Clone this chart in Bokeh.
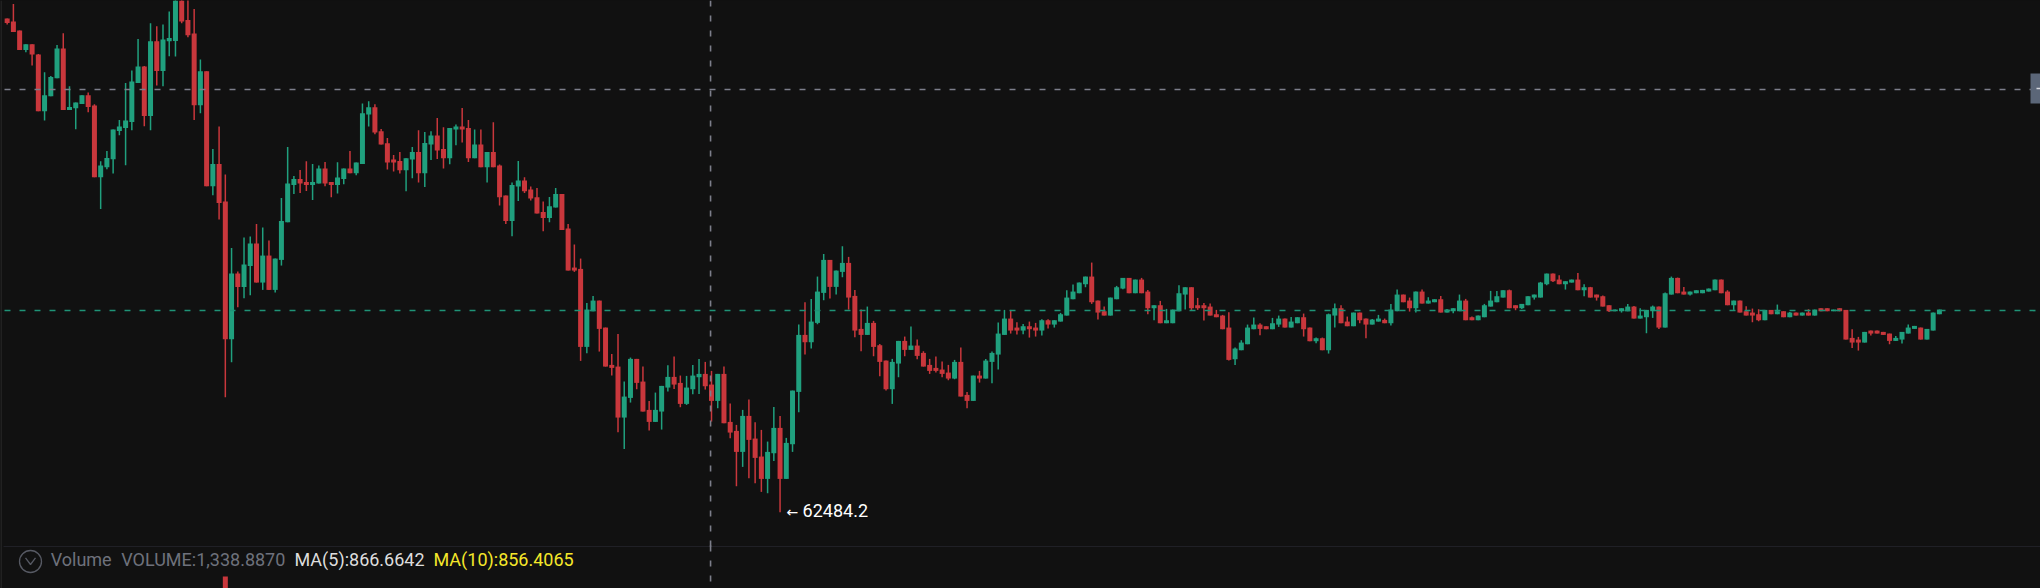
from bokeh.plotting import figure
from bokeh.models import Range1d
from bokeh.core.properties import value
from bokeh.embed import file_html
from bokeh.resources import INLINE

open_prices = [
 63965,63956,63929,63871,63888,63857,63687,63732,63786,63875,
 63691,63696,63709,63735,63704,63489,63519,63543,63628,63637,
 63655,63772,63821,63673,63897,63808,63897,63898,64040,63961,
 63920,63705,63807,63462,63529,63416,63003,63200,63160,63223,
 63290,63173,63254,63151,63241,63354,63466,63484,63475,63466,
 63470,63515,63475,63466,63484,63515,63501,63529,63677,63699,
 63627,63591,63542,63538,63510,63542,63565,63501,63587,63614,
 63574,63546,63632,63641,63637,63546,63587,63519,63565,63524,
 63434,63358,63461,63479,63452,63429,63385,63367,63398,63439,
 63335,63218,63214,62980,63087,63119,63038,62926,62921,62768,
 62827,62944,62876,62791,62755,62786,62858,62890,62872,62809,
 62853,62889,62899,62867,62818,62899,62755,62728,62665,62773,
 62705,62651,62584,62661,62737,62584,62688,62845,63016,62994,
 63052,63142,63241,63160,63205,63232,63133,63034,63016,63052,
 62985,62939,62853,62930,62998,62971,62984,62962,62926,62917,
 62912,62903,62885,62935,62836,62818,62894,62885,62935,62957,
 63016,63065,63038,63029,63042,63038,63029,63060,63047,63056,
 63074,63123,63141,63168,63191,63119,63087,63074,63123,63155,
 63187,63141,63182,63146,63096,63105,63051,63051,63087,63137,
 63159,63105,63105,63101,63078,63074,63038,62943,62970,62988,
 63033,63047,63042,63033,63047,63065,63038,63051,63069,63038,
 62997,63006,62970,63074,63096,63056,63042,63083,63065,63047,
 63056,63061,63051,63087,63137,63119,63096,63146,63110,63114,
 63123,63083,63087,63087,63119,63069,63060,63069,63101,63114,
 63128,63150,63105,63096,63105,63128,63128,63168,63200,63182,
 63168,63173,63182,63150,63159,63137,63132,63105,63087,63087,
 63087,63101,63065,63069,63087,63101,63038,63137,63187,63146,
 63137,63141,63141,63146,63150,63182,63146,63105,63119,63087,
 63083,63078,63060,63091,63078,63087,63069,63083,63074,63083,
 63074,63096,63096,63087,63096,63091,63007,63002,62993,63029,
 63029,63025,63020,62998,63002,63020,63034,63038,63002,63029,
 63078]
high_prices = [
 63965,64009,63929,63888,63888,63859,63804,63793,63886,63921,
 63762,63713,63735,63743,63708,63537,63568,63632,63661,63772,
 63809,63904,63823,63951,63942,63947,63986,64040,64040,64040,
 63994,63842,63807,63574,63641,63497,63277,63206,63308,63311,
 63349,63338,63299,63245,63427,63580,63493,63511,63537,63529,
 63524,63535,63475,63534,63515,63568,63533,63710,63717,63708,
 63634,63607,63556,63565,63546,63580,63630,63625,63627,63667,
 63639,63637,63647,63697,63661,63632,63632,63565,63654,63527,
 63434,63473,63538,63489,63461,63457,63416,63430,63457,63439,
 63349,63287,63245,63112,63133,63119,63038,62959,63019,62876,
 62948,62944,62921,62818,62843,62863,62925,62951,62894,62893,
 62926,62944,62935,62908,62899,62921,62810,62746,62791,62822,
 62754,62731,62696,62800,62773,62707,62849,63047,63114,63124,
 63191,63259,63241,63209,63282,63250,63151,63092,63101,63058,
 62989,62939,62944,62998,63011,63041,63002,62967,62944,62951,
 62936,62926,62941,62978,62845,62894,62908,62944,62966,63053,
 63091,63091,63054,63049,63056,63052,63063,63063,63060,63082,
 63150,63167,63173,63191,63233,63119,63101,63128,63163,63187,
 63187,63182,63187,63151,63105,63118,63094,63092,63165,63159,
 63159,63127,63112,63110,63091,63076,63084,62978,63000,63047,
 63068,63051,63042,63067,63074,63065,63070,63069,63080,63038,
 63008,63008,63080,63110,63105,63071,63083,63083,63065,63064,
 63076,63065,63109,63152,63137,63128,63146,63152,63129,63123,
 63133,63094,63096,63137,63124,63071,63074,63109,63148,63148,
 63150,63152,63105,63109,63132,63137,63175,63200,63200,63195,
 63177,63182,63202,63168,63160,63137,63134,63105,63092,63096,
 63109,63103,63096,63091,63104,63101,63143,63191,63188,63160,
 63146,63150,63151,63155,63182,63182,63150,63119,63119,63102,
 63095,63093,63091,63091,63107,63087,63085,63083,63083,63093,
 63092,63096,63096,63092,63096,63091,63033,63010,63025,63029,
 63029,63025,63020,63013,63025,63047,63043,63038,63034,63083,
 63092]
low_prices = [
 63947,63925,63871,63864,63824,63687,63659,63732,63786,63691,
 63691,63633,63709,63684,63489,63394,63513,63500,63615,63525,
 63630,63772,63642,63630,63764,63762,63852,63851,63951,63909,
 63661,63681,63462,63435,63362,62829,62934,63099,63126,63135,
 63173,63151,63151,63143,63224,63354,63439,63442,63448,63421,
 63470,63462,63429,63440,63468,63501,63495,63529,63641,63618,
 63587,63512,63506,63500,63447,63486,63473,63460,63541,63544,
 63515,63528,63585,63593,63535,63546,63519,63473,63519,63404,
 63349,63312,63418,63442,63419,63380,63327,63354,63398,63331,
 63209,63205,62938,62961,63087,62966,62921,62894,62724,62674,
 62813,62853,62786,62729,62755,62732,62846,62854,62799,62806,
 62838,62839,62852,62756,62796,62751,62706,62562,62620,62586,
 62571,62545,62541,62638,62484,62584,62665,62784,62957,62975,
 63048,63120,63125,63137,63189,63092,63009,62967,63016,62952,
 62892,62849,62809,62889,62952,62971,62943,62921,62899,62903,
 62889,62880,62883,62831,62796,62818,62873,62885,62871,62912,
 63016,63020,63017,63018,63008,63011,63014,63035,63038,63056,
 63074,63123,63141,63159,63109,63062,63074,63074,63123,63153,
 63141,63141,63141,63078,63060,63051,63051,63051,63087,63092,
 63091,63091,63059,63074,63069,63033,62939,62926,62970,62988,
 63033,63015,63033,63033,63040,63038,63038,63051,63011,62997,
 62991,62970,62960,63038,63051,63042,63042,63051,63006,63047,
 63056,63051,63044,63087,63114,63086,63083,63110,63110,63114,
 63083,63083,63081,63087,63060,63060,63060,63069,63101,63114,
 63128,63096,63090,63094,63105,63122,63128,63165,63175,63168,
 63152,63173,63150,63132,63128,63119,63101,63085,63087,63083,
 63087,63065,63065,63021,63067,63034,63038,63137,63141,63137,
 63134,63141,63141,63146,63150,63141,63105,63091,63083,63074,
 63054,63057,63060,63078,63078,63069,63069,63074,63074,63074,
 63074,63087,63087,63087,63087,63002,62977,62969,62993,63014,
 63020,63016,62988,62998,62990,63020,63034,63002,63002,63029,
 63078]
close_prices = [
 63952,63925,63871,63888,63857,63687,63735,63790,63875,63691,
 63700,63713,63735,63700,63489,63524,63547,63632,63641,63659,
 63776,63821,63673,63897,63808,63902,63907,64040,63956,63915,
 63705,63807,63462,63529,63412,63003,63200,63160,63227,63290,
 63173,63254,63151,63245,63358,63470,63484,63470,63466,63475,
 63515,63470,63466,63488,63515,63501,63533,63681,63699,63623,
 63587,63533,63533,63510,63546,63565,63501,63592,63614,63569,
 63546,63637,63641,63632,63546,63587,63519,63565,63519,63429,
 63358,63466,63479,63447,63425,63380,63367,63402,63439,63331,
 63209,63209,62980,63092,63119,63034,62921,62917,62768,62831,
 62944,62872,62786,62755,62791,62863,62890,62867,62809,62858,
 62894,62899,62862,62818,62899,62751,62723,62665,62773,62701,
 62647,62584,62665,62737,62584,62692,62849,63016,62994,63056,
 63146,63241,63160,63209,63232,63128,63029,63016,63052,62980,
 62935,62853,62935,62998,62971,62984,62953,62921,62908,62908,
 62899,62885,62935,62831,62818,62894,62885,62939,62962,63020,
 63065,63029,63029,63042,63033,63029,63060,63047,63060,63078,
 63128,63146,63173,63191,63114,63083,63074,63128,63159,63187,
 63141,63182,63141,63096,63105,63051,63060,63092,63141,63159,
 63096,63096,63096,63074,63069,63033,62941,62975,62993,63038,
 63047,63034,63033,63051,63065,63038,63056,63069,63033,62997,
 63006,62970,63078,63096,63051,63042,63083,63060,63047,63062,
 63065,63051,63092,63137,63114,63096,63146,63110,63119,63123,
 63083,63092,63096,63119,63060,63060,63074,63105,63119,63132,
 63150,63096,63096,63109,63132,63137,63173,63200,63177,63168,
 63177,63182,63150,63159,63128,63128,63101,63087,63092,63096,
 63101,63065,63074,63091,63101,63038,63141,63187,63141,63137,
 63146,63150,63151,63155,63182,63141,63105,63119,63083,63074,
 63074,63060,63091,63078,63087,63069,63083,63074,63083,63074,
 63092,63087,63087,63092,63087,63002,62993,62993,63025,63020,
 63020,63016,62998,63007,63025,63038,63043,63002,63034,63083,
 63092]

current_price = 63089
marker_price = 63752
lowest_price = 62484.2
lowest_index = 124
crosshair_index = 112.85
volume_index = [35]
volume_values = [1500]
volume_label = "Volume"
volume_now = "VOLUME:1,338.8870"
ma5_label = "MA(5):866.6642"
ma10_label = "MA(10):856.4065"

W, H = 2040, 588
BG = "#111111"
UP = "#20A07E"
DOWN = "#C9373C"
GREY = "#7C7E8A"
FONT = value("Roboto")

# screen layout: price = TOP - 3 * pixel row; index = (pixel column - X0) / STEP
TOP = 64019.2
PX = 3.0
X0 = 6.67
STEP = 6.233
def sx(px): return (px - X0) / STEP
def sy(px): return TOP - PX * px

p = figure(width=W, height=H, output_backend="svg", toolbar_location=None,
           x_range=Range1d(sx(0), sx(W)), y_range=Range1d(sy(H), sy(0)),
           x_axis_location=None, y_axis_location=None,
           background_fill_color=BG, border_fill_color=BG,
           min_border=0, min_border_left=0, min_border_right=0,
           min_border_top=0, min_border_bottom=0, outline_line_color=None)
p.grid.visible = False
p.styles = {"position": "fixed", "left": "0", "top": "0", "background-color": BG}

n = len(open_prices)
idx = list(range(n))
colors = [UP if close_prices[i] >= open_prices[i] else DOWN for i in idx]

p.segment(idx, high_prices, idx, low_prices, line_color=colors, line_width=1.5)
p.vbar(x=idx, width=5 / STEP,
       top=[max(open_prices[i], close_prices[i]) for i in idx],
       bottom=[min(open_prices[i], close_prices[i]) for i in idx],
       fill_color=colors, line_color=None)

# volume pane: only the tallest bar reaches into view
p.extra_y_ranges = {"volume": Range1d(0, 73500)}
p.vbar(x=volume_index, width=5 / STEP, top=volume_values, bottom=0,
       fill_color=DOWN, line_color=None, y_range_name="volume")

# panel chrome
p.segment([sx(3)], [sy(546)], [sx(W)], [sy(546)], line_color="#202026", line_width=1)
p.segment([sx(0.5)], [sy(0)], [sx(0.5)], [sy(H)], line_color="#333333", line_width=1)

# price lines and crosshair
p.line([sx(4), sx(W)], [marker_price, marker_price], line_color=GREY, line_width=1.6, line_dash="6 9")
p.line([sx(4), sx(W)], [current_price, current_price], line_color="#1F9377", line_width=1.6, line_dash="6 9")
p.line([crosshair_index, crosshair_index], [sy(0), sy(546)], line_color=GREY, line_width=1.6, line_dash="6 9")
p.line([crosshair_index, crosshair_index], [sy(545), sy(H)], line_color=GREY, line_width=1.6, line_dash="6 9")

# right-hand tag
p.quad(left=[sx(2030)], right=[sx(W)], top=[sy(73)], bottom=[sy(103)], fill_color="#5B6678", line_color=None)
p.segment([sx(2036)], [sy(88)], [sx(W)], [sy(88)], line_color="#D5D8DE", line_width=1.5)

# low-price label
p.text([lowest_index], [lowest_price], text=["\u2190"], x_offset=6.5, y_offset=0,
       text_color="#FFFFFF", text_font=value("DejaVu Sans"), text_font_size="14px",
       text_align="left", text_baseline="middle")
p.text([lowest_index], [lowest_price], text=[f"{lowest_price}"], x_offset=22.5, y_offset=-2,
       text_color="#FFFFFF", text_font=FONT, text_font_size="18px",
       text_align="left", text_baseline="middle")

# volume legend
p.scatter([sx(30)], [sy(561)], size=22, marker="circle", fill_color=None, line_color="#565963", line_width=1.3)
p.line([sx(25), sx(30), sx(35)], [sy(557.3), sy(564), sy(557.3)], line_color="#565963", line_width=1.3)
for px, txt, col in [(50.2, volume_label, "#6E717C"), (120.7, volume_now, "#6E717C"),
                     (294, ma5_label, "#DDDDDD"), (433, ma10_label, "#F5E72A")]:
    p.text([sx(px)], [sy(558.5)], text=[txt], text_color=col, text_font=FONT, text_font_size="18px",
           text_align="left", text_baseline="middle")

open("out.html", "w").write(file_html(p, INLINE))
